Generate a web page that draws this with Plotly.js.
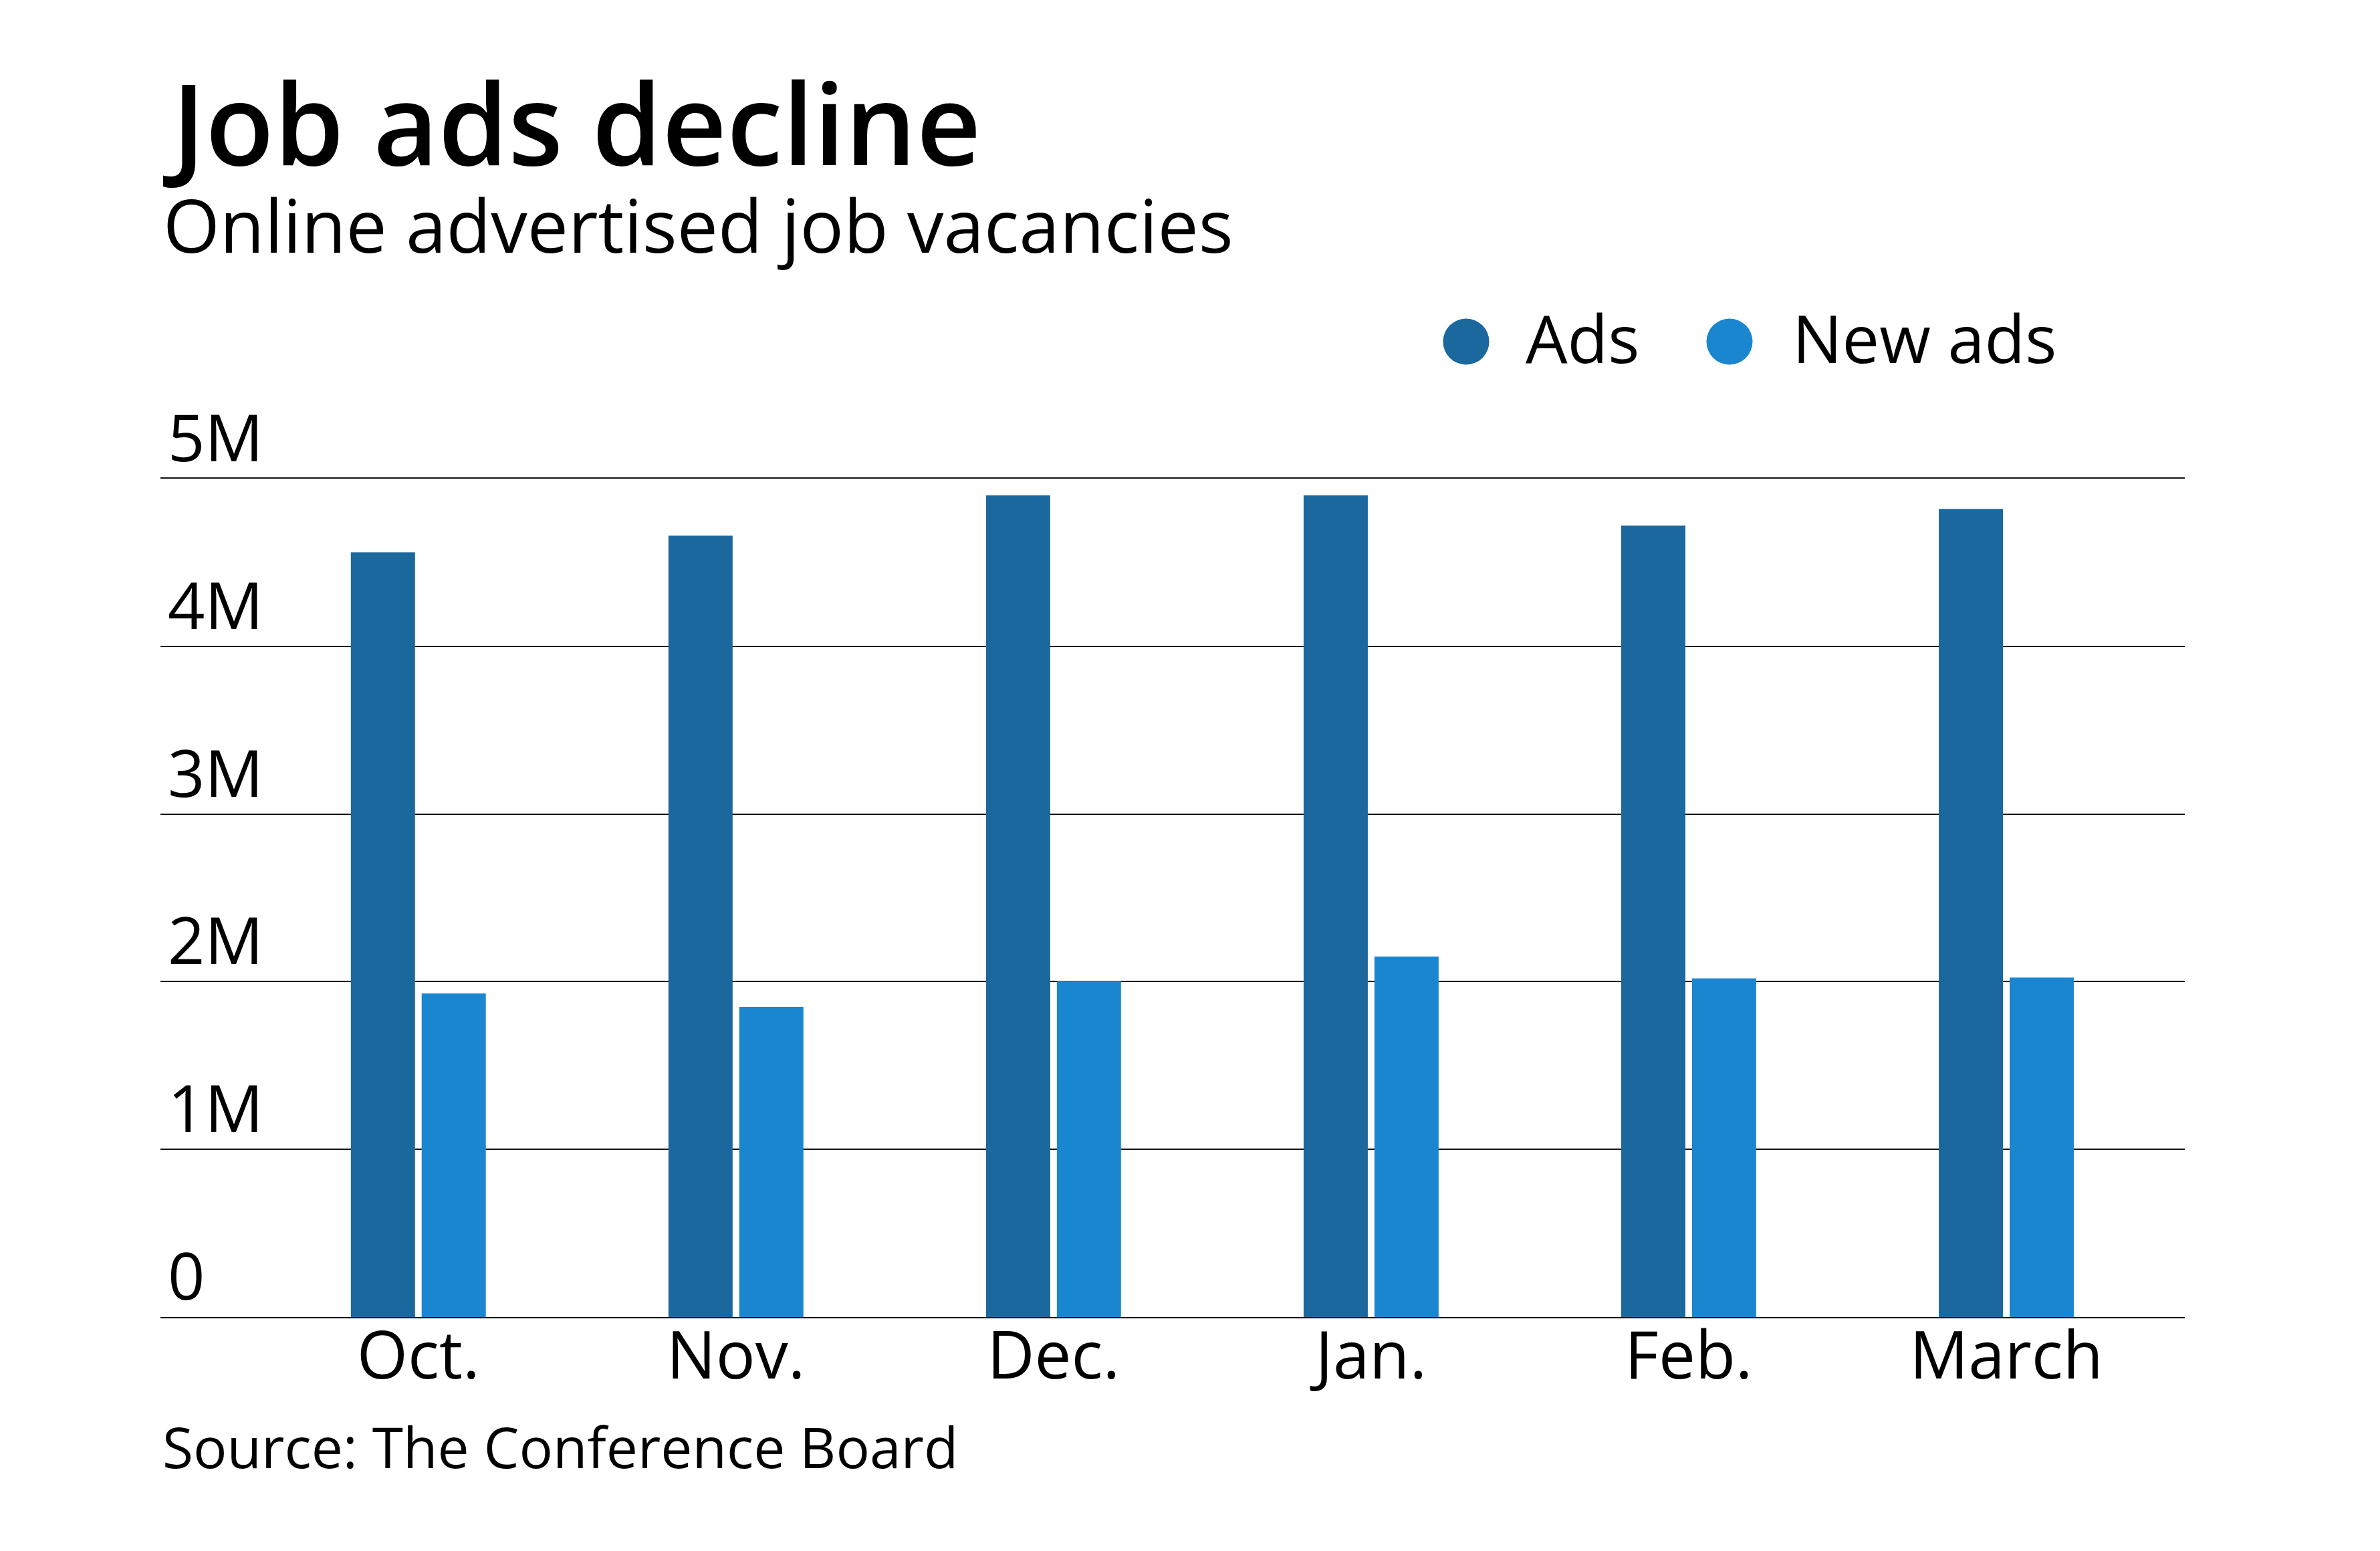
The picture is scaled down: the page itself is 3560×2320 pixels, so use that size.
<!DOCTYPE html>
<html>
<head>
<meta charset="utf-8">
<script src="https://cdn.plot.ly/plotly-3.0.1.min.js"></script>
<style>
  html, body { margin: 0; padding: 0; background: #fff; }
  #chart { width: 3560px; height: 2320px; }
</style>
</head>
<body>
<div id="chart"></div>
<script>
// data
const months = ['Oct.', 'Nov.', 'Dec.', 'Jan.', 'Feb.', 'March'];
const ads = [4560000, 4660000, 4900000, 4900000, 4720000, 4820000];
const newAds = [1930000, 1850000, 2005000, 2150000, 2020000, 2025000];
const yTickVals = [0, 1000000, 2000000, 3000000, 4000000, 5000000];
const yTickText = ['0', '1M', '2M', '3M', '4M', '5M'];
const seriesNames = ['Ads', 'New ads'];
const seriesColors = ['#1a689e', '#1b86d0'];

(function(){
  const W = 3560, H = 2320;
  const plotL = 240, plotR = 3268, plotT = 716, plotB = 1970;
  const FONT = '"Open Sans", Lato, sans-serif';

  // helpers : pixel -> paper
  const px = x => (x - plotL) / (plotR - plotL);
  const py = y => (plotB - y) / (plotB - plotT);

  const traces = [
    { type: 'bar', x: months, y: ads, name: seriesNames[0],
      marker: { color: seriesColors[0] }, showlegend: false, hoverinfo: 'x+y' },
    { type: 'bar', x: months, y: newAds, name: seriesNames[1],
      marker: { color: seriesColors[1] }, showlegend: false, hoverinfo: 'x+y' }
  ];

  const annotations = [];
  // titre + sous-titre + source
  annotations.push({ xref: 'paper', yref: 'paper', x: px(242), y: py(298), xanchor: 'left', yanchor: 'bottom',
    text: 'Job ads decline', showarrow: false, font: { family: FONT, size: 168, color: '#000', weight: 600 } });
  annotations.push({ xref: 'paper', yref: 'paper', x: px(242), y: py(412), xanchor: 'left', yanchor: 'bottom',
    text: 'Online advertised job vacancies', showarrow: false, font: { family: FONT, size: 109, color: '#000' } });
  annotations.push({ xref: 'paper', yref: 'paper', x: px(241), y: py(2223), xanchor: 'left', yanchor: 'bottom',
    text: 'Source: The Conference Board', showarrow: false, font: { family: FONT, size: 84, color: '#000' } });

  // y tick labels sit above the gridlines
  yTickVals.forEach((v, i) => {
    annotations.push({ xref: 'paper', yref: 'y', x: 0, y: v, xanchor: 'left', yanchor: 'bottom',
      xshift: 9, yshift: -4, text: yTickText[i], showarrow: false,
      font: { family: FONT, size: 97, color: '#000' } });
  });

  // legende maison (cercles + texte)
  const legX = [2193, 2587], legTextX = [2280, 2679];
  const shapes = [];
  seriesNames.forEach((n, i) => {
    shapes.push({ type: 'circle', xref: 'paper', yref: 'paper', xsizemode: 'pixel', ysizemode: 'pixel',
      xanchor: px(legX[i]), yanchor: py(511), x0: -34.5, x1: 34.5, y0: -34.5, y1: 34.5,
      fillcolor: seriesColors[i], line: { width: 0 } });
    annotations.push({ xref: 'paper', yref: 'paper', x: px(legTextX[i]), y: py(574), xanchor: 'left', yanchor: 'bottom',
      text: n, showarrow: false, font: { family: FONT, size: 99, color: '#000' } });
  });

  const layout = {
    width: W, height: H,
    margin: { l: plotL, r: W - plotR, t: plotT, b: H - plotB, pad: 0 },
    paper_bgcolor: '#fff', plot_bgcolor: '#fff',
    barmode: 'group', bargap: 0.554, bargroupgap: 0.094,
    showlegend: false,
    font: { family: FONT, color: '#000' },
    xaxis: {
      type: 'category', range: [-0.812, 5.562], showgrid: false, zeroline: false,
      // ligne du bas + ligne miroir en haut (5M)
      showline: true, mirror: true, linecolor: '#111', linewidth: 2,
      ticks: '', tickfont: { family: FONT, size: 98, color: '#000' },
      ticklabelstandoff: -28
    },
    yaxis: {
      range: [0, 5000000], tickvals: yTickVals, showticklabels: false,
      showgrid: true, gridcolor: '#111', gridwidth: 2,
      zeroline: false, showline: false, ticks: ''
    },
    annotations: annotations,
    shapes: shapes
  };

  Plotly.newPlot('chart', traces, layout, { displayModeBar: false, staticPlot: true });
})();
</script>
</body>
</html>
